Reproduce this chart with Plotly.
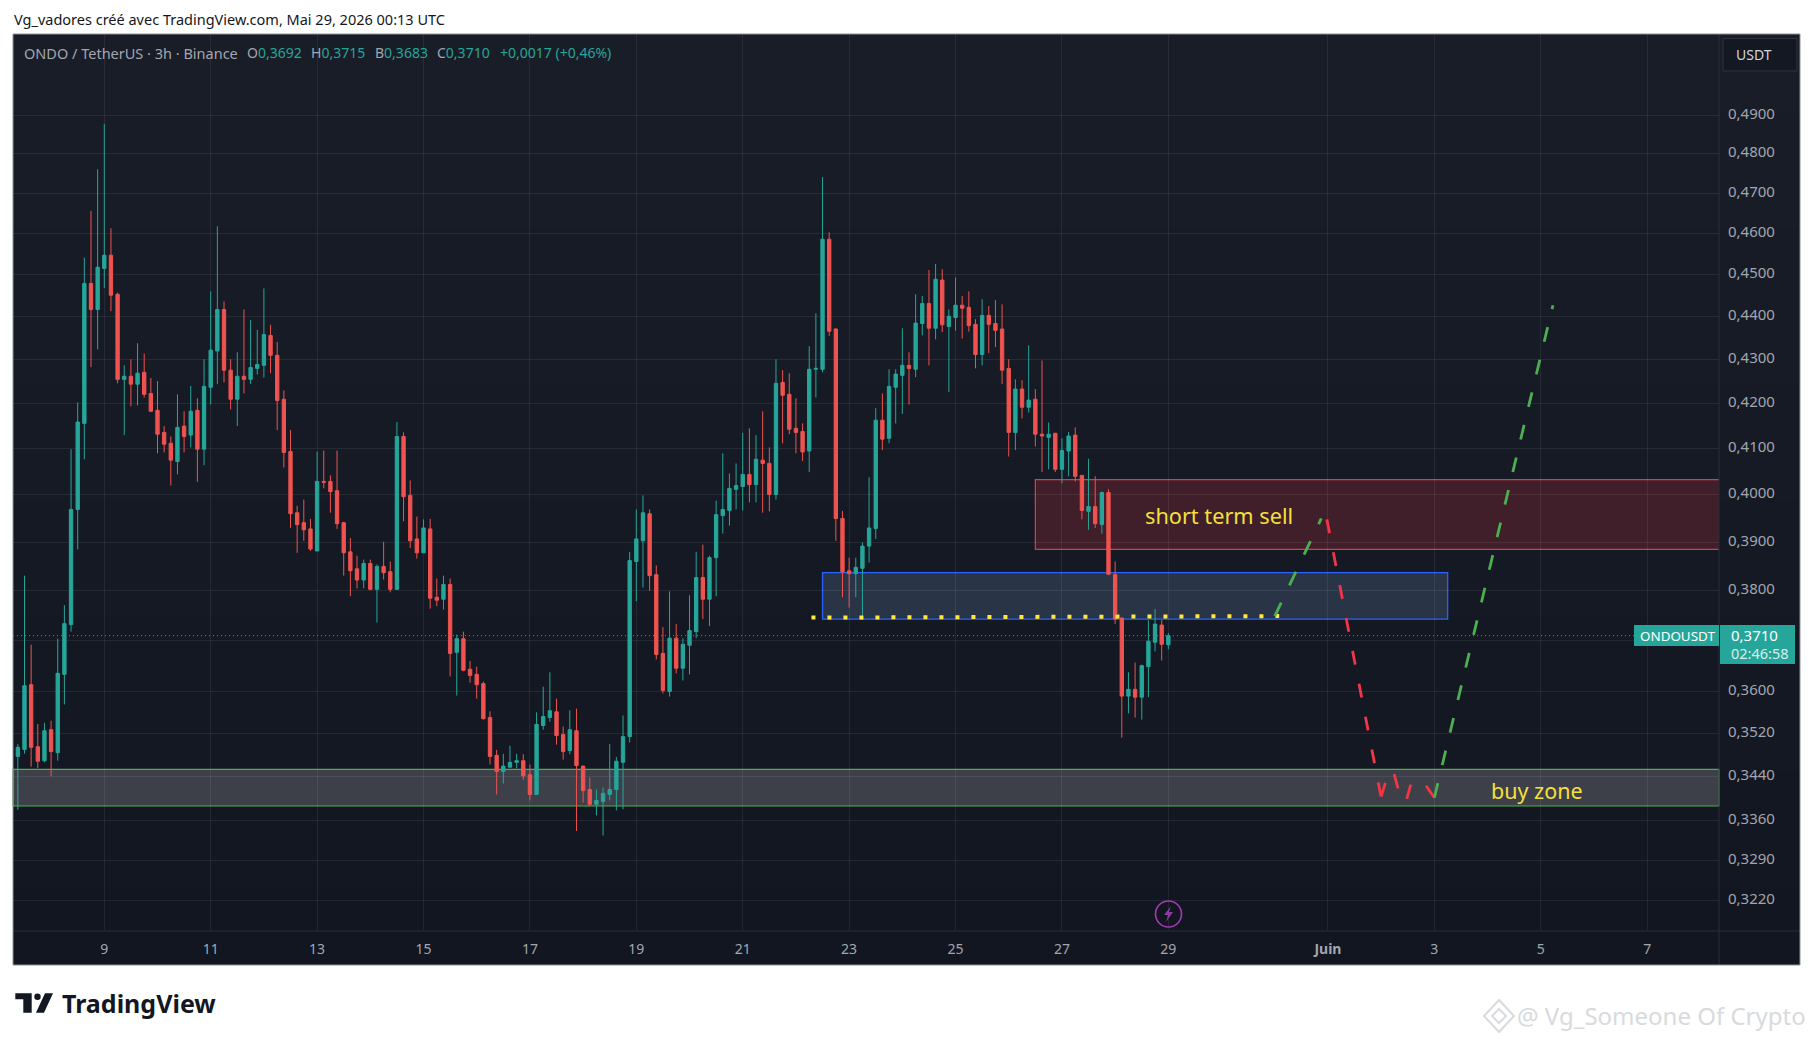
import math
import pandas as pd
import plotly.graph_objects as go

# 3h candles, first bar 7 May 09:00
opens = [
    .3478, .3491, .3614, .3496, .3470, .3528, .3485, .3634, .3732, .3969,
    .4156, .4479, .4417, .4515, .4547, .4453, .4255, .4262, .4244, .4271,
    .4223, .4185, .4136, .4112, .4072, .4150, .4130, .4185, .4099, .4237,
    .4320, .4417, .4276, .4210, .4262, .4255, .4280, .4287, .4356, .4310,
    .4210, .4094, .3962, .3941, .3928, .3882, .4029, .4029, .4009, .3941,
    .3880, .3845, .3822, .3856, .3803, .3850, .3839, .3803, .4127, .3999,
    .3907, .3878, .3928, .3787, .3783, .3813, .3677, .3704, .3644, .3634,
    .3616, .3551, .3480, .3450, .3458, .3467, .3470, .3444, .3408, .3536,
    .3551, .3562, .3519, .3489, .3526, .3460, .3417, .3390, .3395, .3408,
    .3417, .3467, .3515, .3860, .3903, .3960, .3833, .3675, .3601, .3705,
    .3646, .3691, .3718, .3827, .3783, .3868, .3956, .3967, .4012, .4018,
    .4044, .4022, .4075, .4068, .4001, .4248, .4221, .4145, .4138, .4095,
    .4278, .4278, .4586, .4371, .3950, .3841, .3835, .3846, .3892, .3929,
    .4163, .4123, .4237, .4264, .4287, .4278, .4384, .4431, .4373, .4487,
    .4377, .4398, .4427, .4422, .4382, .4312, .4403, .4384, .4371, .4280,
    .4136, .4233, .4192, .4210, .4132, .4125, .4134, .4055, .4095, .4130,
    .4042, .3965, .3975, .3937, .4005, .3833, .3745, .3592, .3605, .3590,
    .3649, .3697, .3731, .3692,
]
highs = [
    .3501, .3831, .3692, .3539, .3541, .3545, .3704, .3771, .4099, .4203,
    .4541, .4656, .4761, .4878, .4613, .4457, .4287, .4301, .4338, .4314,
    .4258, .4251, .4150, .4127, .4221, .4183, .4240, .4212, .4301, .4460,
    .4618, .4436, .4301, .4317, .4417, .4392, .4369, .4467, .4381, .4341,
    .4230, .4141, .3977, .3990, .3949, .4094, .4096, .4042, .4096, .3943,
    .3909, .3872, .3864, .3864, .3854, .3901, .3860, .4159, .4136, .4031,
    .3954, .3948, .3949, .3825, .3831, .3825, .3712, .3718, .3660, .3649,
    .3620, .3563, .3490, .3483, .3498, .3483, .3482, .3463, .3561, .3610,
    .3638, .3587, .3534, .3565, .3568, .3461, .3439, .3417, .3421, .3501,
    .3477, .3555, .3880, .3969, .3999, .3969, .3852, .3727, .3799, .3733,
    .3705, .3791, .3880, .3895, .3872, .3988, .4090, .4046, .4068, .4135,
    .4145, .4130, .4183, .4103, .4301, .4276, .4269, .4212, .4156, .4331,
    .4408, .4741, .4603, .4373, .3966, .3868, .3868, .3900, .4038, .4190,
    .4223, .4278, .4278, .4373, .4317, .4453, .4449, .4511, .4526, .4513,
    .4417, .4493, .4449, .4460, .4394, .4441, .4425, .4439, .4429, .4301,
    .4255, .4253, .4333, .4233, .4298, .4158, .4134, .4123, .4137, .4147,
    .4042, .4078, .4040, .4007, .4012, .3860, .3747, .3638, .3657, .3653,
    .3741, .3763, .3741, .3715,
]
lows = [
    .3380, .3483, .3459, .3456, .3467, .3441, .3470, .3576, .3718, .3885,
    .4077, .4283, .4324, .4468, .4413, .4246, .4130, .4194, .4196, .4214,
    .4181, .4090, .4092, .4020, .4044, .4092, .4103, .4028, .4064, .4198,
    .4244, .4248, .4187, .4150, .4223, .4244, .4266, .4259, .4269, .4141,
    .4059, .3930, .3878, .3903, .3882, .3881, .4014, .3962, .3928, .3831,
    .3789, .3805, .3805, .3801, .3736, .3823, .3797, .3802, .3944, .3888,
    .3866, .3878, .3764, .3769, .3762, .3630, .3593, .3640, .3618, .3587,
    .3547, .3463, .3408, .3428, .3458, .3456, .3435, .3397, .3408, .3528,
    .3543, .3500, .3472, .3482, .3342, .3393, .3386, .3370, .3334, .3397,
    .3379, .3381, .3504, .3779, .3807, .3800, .3663, .3597, .3591, .3636,
    .3622, .3634, .3705, .3743, .3729, .3789, .3918, .3935, .3969, .3967,
    .3984, .3984, .3962, .3965, .3990, .4112, .4132, .4090, .4073, .4049,
    .4214, .4271, .4355, .3903, .3787, .3766, .3787, .3741, .3858, .3907,
    .4097, .4112, .4156, .4177, .4198, .4260, .4356, .4287, .4347, .4364,
    .4226, .4367, .4349, .4365, .4280, .4287, .4315, .4329, .4244, .4083,
    .4097, .4167, .4180, .4105, .4049, .4055, .4049, .4025, .4040, .4029,
    .3948, .3926, .3930, .3918, .3832, .3733, .3513, .3559, .3551, .3547,
    .3590, .3679, .3661, .3683,
]
closes = [
    .3495, .3612, .3495, .3469, .3526, .3487, .3636, .3734, .3969, .4159,
    .4479, .4417, .4518, .4547, .4451, .4255, .4262, .4244, .4269, .4221,
    .4183, .4132, .4110, .4075, .4147, .4127, .4183, .4099, .4239, .4322,
    .4417, .4276, .4210, .4262, .4255, .4282, .4289, .4358, .4310, .4207,
    .4092, .3960, .3937, .3926, .3886, .4029, .4027, .4007, .3939, .3878,
    .3841, .3822, .3856, .3803, .3850, .3837, .3803, .4127, .3996, .3903,
    .3878, .3930, .3785, .3781, .3813, .3675, .3704, .3642, .3632, .3614,
    .3549, .3478, .3450, .3460, .3467, .3470, .3442, .3408, .3538, .3553,
    .3564, .3517, .3487, .3528, .3461, .3415, .3390, .3397, .3410, .3417,
    .3469, .3515, .3862, .3907, .3962, .3831, .3673, .3603, .3705, .3646,
    .3693, .3720, .3827, .3783, .3868, .3958, .3969, .4014, .4020, .4044,
    .4022, .4077, .4068, .4001, .4246, .4219, .4143, .4136, .4093, .4278,
    .4280, .4586, .4366, .3950, .3839, .3835, .3848, .3892, .3930, .4163,
    .4121, .4239, .4267, .4287, .4280, .4385, .4431, .4373, .4489, .4381,
    .4401, .4427, .4420, .4379, .4312, .4403, .4382, .4368, .4276, .4136,
    .4233, .4192, .4208, .4132, .4128, .4132, .4055, .4096, .4128, .4040,
    .3967, .3975, .3939, .4005, .3834, .3743, .3592, .3605, .3590, .3651,
    .3699, .3733, .3693, .3710,
]
times = pd.date_range("2026-05-07 09:00", periods=len(opens), freq="3h")

price_ticks = [.49, .48, .47, .46, .45, .44, .43, .42, .41, .40, .39, .38, .37, .36, .352, .344, .336, .329, .322]
price_labels = ["0,4900", "0,4800", "0,4700", "0,4600", "0,4500", "0,4400", "0,4300", "0,4200", "0,4100", "0,4000",
                "0,3900", "0,3800", "", "0,3600", "0,3520", "0,3440", "0,3360", "0,3290", "0,3220"]
date_ticks = ["2026-05-09", "2026-05-11", "2026-05-13", "2026-05-15", "2026-05-17", "2026-05-19", "2026-05-21",
              "2026-05-23", "2026-05-25", "2026-05-27", "2026-05-29", "2026-06-01", "2026-06-03", "2026-06-05", "2026-06-07"]
date_labels = ["9", "11", "13", "15", "17", "19", "21", "23", "25", "27", "29", "<b>Juin</b>", "3", "5", "7"]

# drawings on the chart
last_price = .3710
sell_zone = [.3885, .4033]
entry_zone = [.3743, .3837]
buy_zone = [.3387, .3454]
yellow_x = ["2026-05-22 07:00", "2026-05-31 02:00"]
yellow_y = [.3746, .3749]
up1_x = ["2026-05-31 00:00", "2026-05-31 21:00"]
up1_y = [.3749, .3950]
down_x = ["2026-05-31 23:30", "2026-06-02 00:00"]
down_y = [.3948, .3403]
# the short strokes of the zigzag at the bottom, None breaks the line
zig_x = ["2026-06-02 00:00", "2026-06-02 01:54", None, "2026-06-02 05:49", "2026-06-02 07:37", None,
         "2026-06-02 11:33", "2026-06-02 13:21", None, "2026-06-02 20:15", "2026-06-03 00:00"]
zig_y = [.3404, .3429, None, .3445, .3419, None, .3400, .3426, None, .3424, .3402]
up2_x = ["2026-06-03 00:00", "2026-06-05 05:30"]
up2_y = [.3402, .4427]

UP = "#26a69a"
DOWN = "#ef5350"
FONT = "Noto Sans"

# plot area in page pixels
L, R, T, B = 13, 1719, 34, 931
PANEL_R, PANEL_B = 1800, 965


def px_x(x):
    return (x - L) / (R - L)


def px_y(y):
    return (B - y) / (B - T)


def page_shape(kind, x0, y0, x1, y1, **kw):
    return dict(type=kind, xref="paper", yref="paper", x0=px_x(x0), x1=px_x(x1), y0=px_y(y0), y1=px_y(y1), **kw)


def page_path(points, **kw):
    d = "M" + " L".join(f"{px_x(x):.5f},{px_y(y):.5f}" for x, y in points) + " Z"
    return dict(type="path", xref="paper", yref="paper", path=d, **kw)


def label(text, x, y, size=14, color="#a3a6af", anchor="left", family=FONT):
    return dict(text=text, x=px_x(x), y=px_y(y), xref="paper", yref="paper", showarrow=False, xanchor=anchor,
                yanchor="middle", align="left", font=dict(size=size, color=color, family=family))


fig = go.Figure()
fig.add_trace(go.Candlestick(
    x=times, open=opens, high=highs, low=lows, close=closes, whiskerwidth=0,
    increasing=dict(line=dict(color=UP, width=1), fillcolor=UP),
    decreasing=dict(line=dict(color=DOWN, width=1), fillcolor=DOWN),
    showlegend=False,
))


def add_path(x, y, color, dash, width):
    fig.add_trace(go.Scatter(x=x, y=y, mode="lines", showlegend=False, hoverinfo="skip", connectgaps=False,
                             line=dict(color=color, dash=dash, width=width)))


add_path(yellow_x, yellow_y, "#ffeb3b", "4px,12px", 4)
add_path(up1_x, up1_y, "#4caf50", "15px,19px", 2.8)
add_path(down_x, down_y, "#f23645", "14px,19.5px", 2.8)
add_path(zig_x, zig_y, "#f23645", "solid", 2.8)
add_path(up2_x, up2_y, "#4caf50", "15px,18.5px", 2.8)

shapes = []

# panel background fades slightly from top to bottom
bands = 24
for i in range(bands):
    f = i / (bands - 1)
    col = f"rgb({25 - 7 * f:.0f},{29 - 7 * f:.0f},{40 - 8 * f:.0f})"
    y_top = T + (PANEL_B - T) * i / bands
    shapes.append(page_shape("rect", L, y_top, PANEL_R, PANEL_B, fillcolor=col, line_width=0, layer="below"))

shapes.append(dict(type="rect", xref="paper", yref="y", x0=0, x1=1, y0=buy_zone[0], y1=buy_zone[1], layer="below",
                   fillcolor="rgba(255,255,255,0.18)", line=dict(color="#4caf50", width=1.2)))
shapes.append(dict(type="rect", xref="x", yref="y", x0="2026-05-26 12:00", x1="2026-06-08 12:00",
                   y0=sell_zone[0], y1=sell_zone[1], layer="below",
                   fillcolor="rgba(242,54,69,0.2)", line=dict(color="#d1404b", width=1.2)))
shapes.append(dict(type="rect", xref="x", yref="y", x0="2026-05-22 12:00", x1="2026-06-03 06:00",
                   y0=entry_zone[0], y1=entry_zone[1], layer="below",
                   fillcolor="rgba(120,150,200,0.22)", line=dict(color="#2962ff", width=1.3)))
shapes.append(dict(type="line", xref="paper", yref="y", x0=0, x1=px_x(1634), y0=last_price, y1=last_price,
                   line=dict(color=UP, width=1, dash="1px,3px")))

# panel frame and axis separators
shapes.append(page_shape("line", R, T, R, PANEL_B, line=dict(color="#2a2e39", width=1)))
shapes.append(page_shape("line", L, B, PANEL_R, B, line=dict(color="#2a2e39", width=1)))
shapes.append(page_shape("rect", L, T, PANEL_R, PANEL_B, line=dict(color="#8f929a", width=1)))

# USDT button
shapes.append(page_shape("rect", 1723, 38.5, 1797, 71, fillcolor="#141823", line=dict(color="#2f333e", width=1)))

# price tags
shapes.append(page_shape("rect", 1634, 625, 1719, 646, fillcolor=UP, line_width=0))
shapes.append(page_shape("rect", 1720, 625, 1795, 664, fillcolor=UP, line_width=0))

# lightning marker
shapes.append(page_shape("circle", 1155.5, 901, 1181.5, 927, line=dict(color="#a33ab5", width=1.6)))
shapes.append(page_path([(1171, 906), (1164, 915), (1168, 915), (1166, 922), (1173, 912), (1169, 912)],
                        fillcolor="#8e3a9e", line_width=0))

# TradingView logo
shapes.append(page_path([(15.3, 993.3), (31.7, 993.3), (31.7, 1012.7), (23.3, 1012.7), (23.3, 999.3), (15.3, 999.3)],
                        fillcolor="#131722", line_width=0))
shapes.append(page_shape("circle", 34.3, 993.5, 40.7, 999.9, fillcolor="#131722", line_width=0))
shapes.append(page_path([(53, 993.3), (45, 993.3), (36, 1012.7), (44, 1012.7)], fillcolor="#131722", line_width=0))

# watermark diamonds
shapes.append(page_path([(1499, 1000), (1514, 1016), (1499, 1032), (1484, 1016)], line=dict(color="#d8dadd", width=2)))
shapes.append(page_path([(1499, 1009), (1506, 1016), (1499, 1023), (1492, 1016)], line=dict(color="#d8dadd", width=2)))

TEAL = "#26a69a"
annotations = [
    label("Vg_vadores créé avec TradingView.com, Mai 29, 2026 00:13 UTC", 12, 19, size=14.5, color="#131722"),
    label("ONDO / TetherUS · 3h · Binance", 22, 53, size=14.5),
    label(f'O<span style="color:{TEAL}">0,3692</span>', 245, 53, size=14),
    label(f'H<span style="color:{TEAL}">0,3715</span>', 309, 53, size=14),
    label(f'B<span style="color:{TEAL}">0,3683</span>', 372.5, 53, size=14),
    label(f'C<span style="color:{TEAL}">0,3710</span>', 435, 53, size=14),
    label("+0,0017 (+0,46%)", 498, 53, size=14, color=TEAL),
    label("USDT", 1734, 54, size=14, color="#d1d4dc"),
    label("ONDOUSDT", 1638, 635.5, size=13.4, color="#ffffff"),
    label("0,3710", 1729, 635, size=15, color="#ffffff"),
    label("02:46:58", 1729, 653, size=14.5, color="#d6eeea"),
    label("short term sell", 1143, 515, size=21.7, color="#f5e03a"),
    label("buy zone", 1489, 790, size=21.5, color="#f5e03a"),
    label("<b>TradingView</b>", 60, 1003, size=25, color="#131722"),
    label("@ Vg_Someone Of Crypto", 1515, 1015, size=24, color="#d8dadd"),
]

fig.update_layout(
    width=1814, height=1041,
    margin=dict(l=L, r=1814 - R, t=T, b=1041 - B, autoexpand=False),
    paper_bgcolor="white", plot_bgcolor="rgba(0,0,0,0)",
    boxgap=0.28,
    font=dict(family=FONT, color="#a3a6af", size=15),
    xaxis=dict(
        range=["2026-05-07 06:49", "2026-06-08 08:24"], tickmode="array", tickvals=date_ticks, ticktext=date_labels,
        gridcolor="rgba(255,255,255,0.07)", gridwidth=1, zeroline=False, showline=False, ticks="", ticklabelstandoff=8,
        rangeslider=dict(visible=False), tickangle=0, tickfont=dict(size=14),
    ),
    yaxis=dict(
        type="log", side="right", range=[math.log10(.3168), math.log10(.5118)],
        tickmode="array", tickvals=price_ticks, ticktext=price_labels,
        gridcolor="rgba(255,255,255,0.07)", gridwidth=1, zeroline=False, showline=False, ticks="", ticklabelstandoff=8,
        ticklabelshift=-2,
    ),
    shapes=shapes,
    annotations=annotations,
)

fig.write_html("out.html", config={"displayModeBar": False},
               post_script="document.body.style.margin='0';document.body.style.overflow='hidden';")
